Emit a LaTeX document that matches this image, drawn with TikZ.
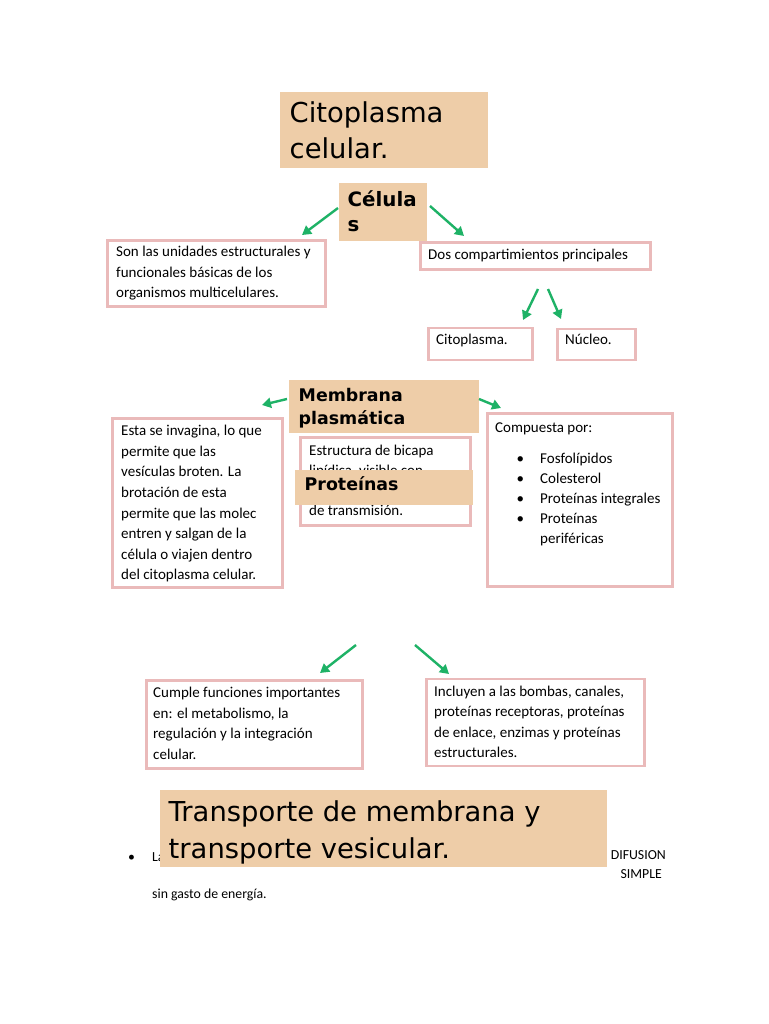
\documentclass[tikz,border=0pt]{standalone}
\usepackage{fontspec}
\setmainfont{Carlito}
\newfontfamily\hfont{DejaVu Sans}
\usetikzlibrary{arrows.meta}
\definecolor{pinkc}{RGB}{234,186,186}
\definecolor{tanc}{RGB}{238,205,168}
\definecolor{greenc}{RGB}{30,178,102}
\newcommand{\bodyf}{\fontsize{15}{20.6}\selectfont}
\newcommand{\smallf}{\fontsize{13.8}{19}\selectfont}
\newcommand{\bigf}{\hfont\fontsize{27.4}{36.5}\selectfont}
\tikzset{
  pinkbox/.style={draw=pinkc, line width=2.8pt, fill=white, inner sep=0pt, anchor=north west},
  tanbox/.style={fill=tanc, draw=none, inner sep=0pt, anchor=north west},
  txt/.style={anchor=north west, inner sep=0pt, align=left, font=\bodyf},
  btxt/.style={anchor=base west, inner sep=0pt, font=\bodyf},
  arr/.style={draw=greenc, line width=2.4pt, -{Triangle[length=9pt,width=10pt]}}
}
\begin{document}
\begin{tikzpicture}[x=1pt,y=-1pt]
\useasboundingbox[fill=white] (0,0) rectangle (768,1024);

% Title
\node[tanbox, minimum width=208pt, minimum height=76pt] (title) at (280,92) {};
\node[anchor=north west, inner sep=0pt, align=left, font=\bigf] (titletxt) at (289.5,96.5) {\strut Citoplasma\\celular.};

% Celulas
\node[tanbox, minimum width=88pt, minimum height=58pt] (cel) at (339,183) {};
\node[anchor=north west, inner sep=0pt, align=left, font=\hfont\bfseries\fontsize{19.8}{25}\selectfont] (celtxt) at (347.5,189) {\strut Célula\\s};

\node[pinkbox, minimum width=218pt, minimum height=66pt] (def) at (106,239) {};
\node[txt] (deftxt) at (116,242) {\strut Son las unidades estructurales y\\funcionales básicas de los\\organismos multicelulares.};

\node[pinkbox, minimum width=230pt, minimum height=27pt] (dos) at (419,241) {};
\node[btxt] (dostxt) at (428,259) {Dos compartimientos principales};

\node[pinkbox, minimum width=104pt, minimum height=32pt] (cito) at (427,326.5) {};
\node[btxt] (citotxt) at (436,344) {Citoplasma.};

\node[pinkbox, minimum width=78pt, minimum height=31pt] (nuc) at (556,327.5) {};
\node[btxt] (nuctxt) at (565,344) {Núcleo.};

% Membrana
\node[pinkbox, minimum width=170pt, minimum height=169pt] (esta) at (111,417) {};
\node[txt] (estatxt) at (121,421) {\strut Esta se invagina, lo que\\permite que las\\vesículas broten. La\\brotación de esta\\permite que las molec\\entren y salgan de la\\célula o viajen dentro\\del citoplasma celular.};

\node[pinkbox, minimum width=170pt, minimum height=88pt] (estr) at (299,436) {};
\node[anchor=north west, inner sep=0pt, align=left, font=\fontsize{15}{20}\selectfont] (estrtxt) at (309,441) {\strut Estructura de bicapa\\lipídica, visible con};
\node[btxt] (estrtxt2) at (309,515) {de transmisión.};

\node[tanbox, minimum width=190pt, minimum height=53pt] (mem) at (289,380) {};
\node[anchor=north west, inner sep=0pt, align=left, font=\hfont\bfseries\fontsize{17.4}{23}\selectfont] (memtxt) at (298.5,384.9) {\strut Membrana\\plasmática};

\node[tanbox, minimum width=178pt, minimum height=35pt] (prot) at (295,469.5) {};
\node[anchor=base west, inner sep=0pt, font=\hfont\bfseries\fontsize{17.4}{23}\selectfont] (prottxt) at (304.5,490) {Proteínas};

\node[pinkbox, minimum width=185pt, minimum height=173pt] (comp) at (486,412) {};
\node[btxt] (comptxt) at (495,432) {Compuesta por:};
\node[anchor=north west, inner sep=0pt, align=left, font=\fontsize{15}{20}\selectfont] (list) at (516.3,449.5) {\strut\makebox[23.7pt][l]{•}Fosfolípidos\\\makebox[23.7pt][l]{•}Colesterol\\\makebox[23.7pt][l]{•}Proteínas integrales\\\makebox[23.7pt][l]{•}Proteínas\\\hspace*{23.7pt}periféricas};

% Proteinas
\node[pinkbox, minimum width=216pt, minimum height=88pt] (cum) at (145,679) {};
\node[txt] (cumtxt) at (153,683) {\strut Cumple funciones importantes\\en: el metabolismo, la\\regulación y la integración\\celular.};

\node[pinkbox, minimum width=218pt, minimum height=87pt] (inc) at (425,677.5) {};
\node[txt] (inctxt) at (434,681.5) {\strut Incluyen a las bombas, canales,\\proteínas receptoras, proteínas\\de enlace, enzimas y proteínas\\estructurales.};

% Transporte
\node[anchor=base, inner sep=0pt, font=\smallf] (bul) at (131.5,861) {•};
\node[anchor=base west, inner sep=0pt, font=\smallf] (la) at (152,861) {La};
\node[anchor=base east, inner sep=0pt, font=\smallf] (dif) at (666,859) {DIFUSION};
\node[anchor=base east, inner sep=0pt, font=\smallf] (simp) at (662,878) {SIMPLE};
\node[anchor=base west, inner sep=0pt, font=\smallf] (sin) at (152,898) {sin gasto de energía.};

\node[tanbox, minimum width=447pt, minimum height=77pt] (trans) at (160,790) {};
\node[anchor=north west, inner sep=0pt, align=left, font=\hfont\fontsize{27.4}{37}\selectfont] (transtxt) at (168.5,795.1) {\strut Transporte de membrana y\\transporte vesicular.};

% arrows
\coordinate (a1s) at (338,208); \coordinate (a1e) at (302,235);
\coordinate (a2s) at (430,206); \coordinate (a2e) at (464,236);
\coordinate (a3s) at (538,289); \coordinate (a3e) at (523,320);
\coordinate (a4s) at (548,289); \coordinate (a4e) at (561,319);
\coordinate (a5s) at (287,399); \coordinate (a5e) at (262,405);
\coordinate (a6s) at (479,399); \coordinate (a6e) at (501,408);
\coordinate (a7s) at (356,645); \coordinate (a7e) at (320,673);
\coordinate (a8s) at (415,645); \coordinate (a8e) at (449,674);
\foreach \i in {1,...,8}{\draw[arr] (a\i s) -- (a\i e);}
\end{tikzpicture}
\end{document}
